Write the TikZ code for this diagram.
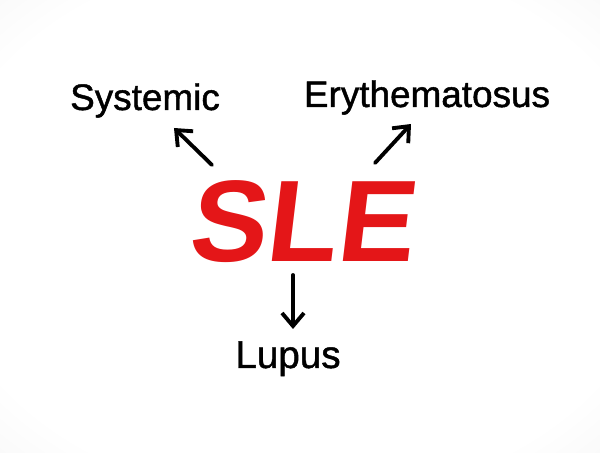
\documentclass[tikz,border=0pt]{standalone}
\usepackage{fontspec}
\setmainfont{Liberation Sans}[FakeBold=1.2]
\newfontfamily\markerfont{Liberation Sans}[FakeSlant=0.12]
\usepackage{xcolor}
\usetikzlibrary{arrows.meta, positioning}
\definecolor{markerred}{RGB}{228,22,24}
\pgfdeclareradialshading{vignette}{\pgfpoint{0bp}{0bp}}{color(0bp)=(white); color(30bp)=(white); color(72bp)=(black!15)}
\tikzstyle{arrow}   = [line width=2.2pt, line cap=round, -{Straight Barb[length=2.6mm, width=4.4mm, line width=2.2pt]}]
\tikzstyle{word}    = [inner sep=0pt, anchor=base, font=\fontsize{21}{25}\selectfont]
\tikzstyle{acronym} = [inner sep=0pt, anchor=base, text=markerred, font=\markerfont\bfseries\fontsize{66}{70}\selectfont]

\begin{document}
\begin{tikzpicture}[x=0.02cm, y=-0.02cm]

% pozadí
\useasboundingbox (0,0) rectangle (600,453);
\shade[shading=vignette] (0,0) rectangle (600,453);

% zkratka
\node[acronym] (sle) at (300,262) {SLE};

% slova
\node[word] (sys) at (145,110) {Systemic};
\node[word] (ery) at (427,107) {Erythematosus};
\node[word, font=\fontsize{22}{26}\selectfont] (lup) at (288,368) {Lupus};

% konce šipek
\coordinate (sysTail) at (212,165);
\coordinate (sysTip)  at (174,128);
\coordinate (eryTail) at (375,163);
\coordinate (eryTip)  at (411,124);
\coordinate (lupTail) at (293,275);
\coordinate (lupTip)  at (293,329);

\draw[arrow] (sysTail) -- (sysTip);
\draw[arrow] (eryTail) -- (eryTip);
\draw[arrow] (lupTail) -- (lupTip);

\end{tikzpicture}
\end{document}
